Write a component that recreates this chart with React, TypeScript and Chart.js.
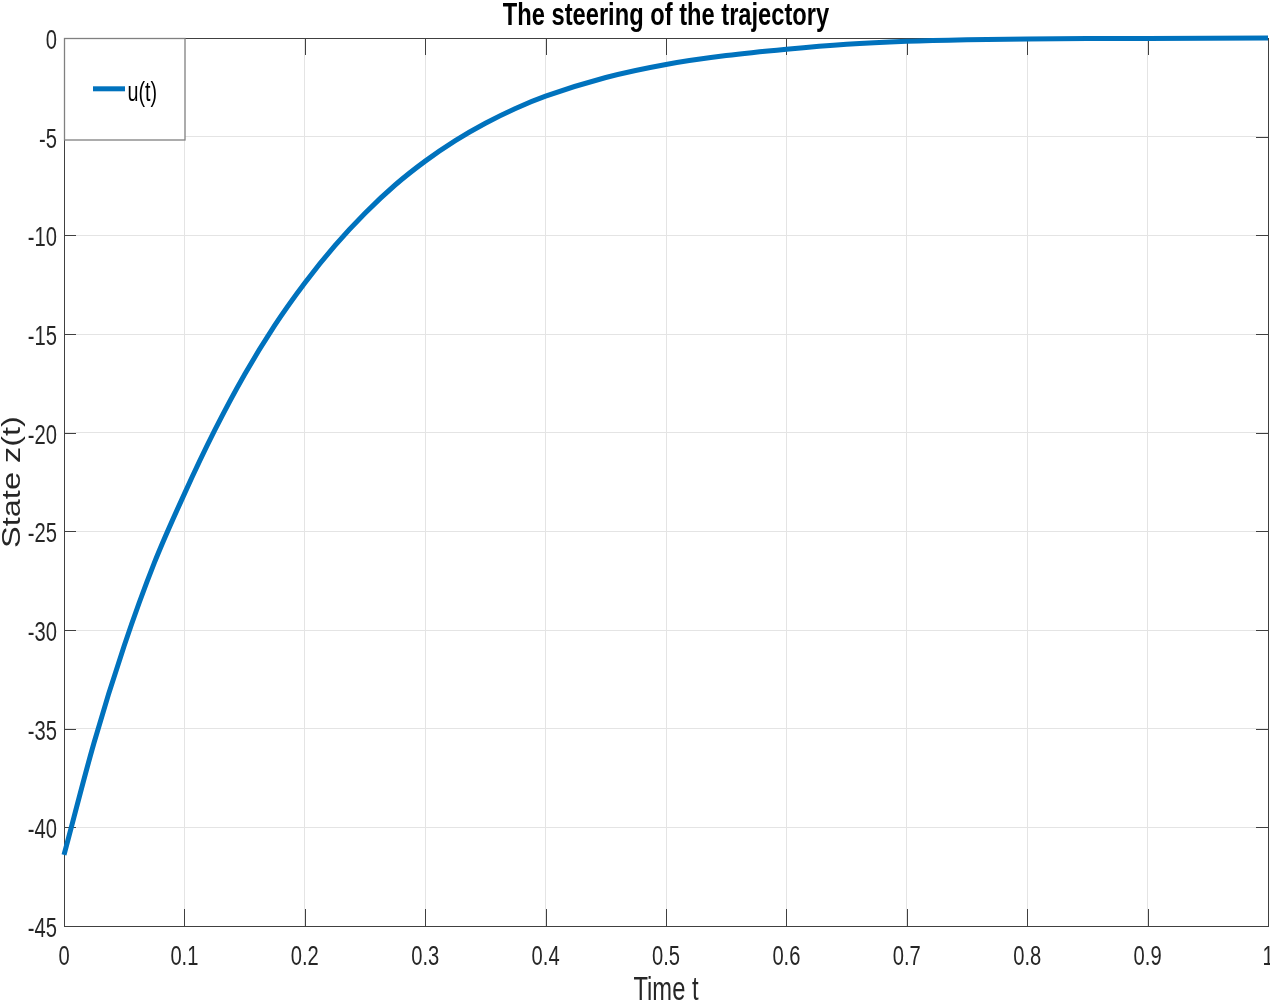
import { useEffect, useRef } from "react";
import { Chart, registerables } from "chart.js";

Chart.register(...registerables);

const chartTitle = "The steering of the trajectory";
const xAxisTitle = "Time t";
const yAxisTitle = "State z(t)";
const seriesLabel = "u(t)";

const timeValues = [
  0, 0.025, 0.05, 0.075, 0.1, 0.125, 0.15, 0.175, 0.2, 0.225, 0.25, 0.275, 0.3,
  0.325, 0.35, 0.375, 0.4, 0.45, 0.5, 0.55, 0.6, 0.65, 0.7, 0.75, 0.8, 0.85,
  0.9, 0.95, 1.0,
];
const stateValues = [
  -41.4, -35.7, -30.8, -26.6, -23.1, -19.9, -17.05, -14.56, -12.41, -10.52,
  -8.88, -7.45, -6.24, -5.2, -4.32, -3.57, -2.95, -2.0, -1.34, -0.89, -0.57,
  -0.32, -0.17, -0.09, -0.05, -0.03, -0.02, -0.01, 0,
];

const xTickValues = [0, 0.1, 0.2, 0.3, 0.4, 0.5, 0.6, 0.7, 0.8, 0.9, 1];
const xTickLabels = ["0", "0.1", "0.2", "0.3", "0.4", "0.5", "0.6", "0.7", "0.8", "0.9", "1"];
const yTickValues = [0, -5, -10, -15, -20, -25, -30, -35, -40, -45];
const yTickLabels = ["0", "-5", "-10", "-15", "-20", "-25", "-30", "-35", "-40", "-45"];

const LINE_COLOR = "#0072BD";
const AXIS_COLOR = "#404040";
const GRID_COLOR = "#e4e4e4";
const TEXT_COLOR = "#262626";
const SANS = "'Liberation Sans', Arial, Helvetica, sans-serif";

function drawText(
  ctx: CanvasRenderingContext2D,
  text: string,
  x: number,
  y: number,
  opts: { font: string; sx: number; align: CanvasTextAlign; baseline: CanvasTextBaseline; rotate?: number; color: string }
) {
  ctx.save();
  ctx.translate(x, y);
  if (opts.rotate) ctx.rotate(opts.rotate);
  ctx.scale(opts.sx, 1);
  ctx.font = opts.font;
  ctx.fillStyle = opts.color;
  ctx.textAlign = opts.align;
  ctx.textBaseline = opts.baseline;
  ctx.fillText(text, 0, 0);
  ctx.restore();
}

const boxPlugin = {
  id: "matlabBox",
  beforeDatasetsDraw(chart: any) {
    const { ctx, chartArea, scales } = chart;
    const { left, right, top, bottom } = chartArea;
    ctx.save();
    ctx.strokeStyle = AXIS_COLOR;
    ctx.lineWidth = 1;
    ctx.beginPath();
    for (const v of xTickValues) {
      const x = Math.round(scales.x.getPixelForValue(v)) + 0.5;
      ctx.moveTo(x, bottom);
      ctx.lineTo(x, bottom - 17);
      ctx.moveTo(x, top);
      ctx.lineTo(x, top + 17);
    }
    for (const v of yTickValues) {
      const y = Math.round(scales.y.getPixelForValue(v)) + 0.5;
      ctx.moveTo(left, y);
      ctx.lineTo(left + 12, y);
      ctx.moveTo(right, y);
      ctx.lineTo(right - 12, y);
    }
    ctx.stroke();
    ctx.strokeRect(left + 0.5, top + 0.5, right - left, bottom - top);
    ctx.restore();
  },
  afterDatasetsDraw(chart: any) {
    const { ctx, chartArea, scales } = chart;
    const { left, right, top, bottom } = chartArea;
    const cx = (left + right) / 2;
    const cy = (top + bottom) / 2;

    // tick labels from the library's scales
    xTickValues.forEach((v, i) => {
      drawText(ctx, xTickLabels[i], scales.x.getPixelForValue(v), bottom + 39, {
        font: `28px ${SANS}`,
        sx: 0.72,
        align: "center",
        baseline: "alphabetic",
        color: TEXT_COLOR,
      });
    });
    yTickValues.forEach((v, i) => {
      drawText(ctx, yTickLabels[i], left - 7, scales.y.getPixelForValue(v) + 11, {
        font: `28px ${SANS}`,
        sx: 0.72,
        align: "right",
        baseline: "alphabetic",
        color: TEXT_COLOR,
      });
    });

    // title and axis titles
    drawText(ctx, chartTitle, cx, top - 13.5, {
      font: `bold 32px ${SANS}`,
      sx: 0.74,
      align: "center",
      baseline: "alphabetic",
      color: "#000000",
    });
    drawText(ctx, xAxisTitle, cx, bottom + 74, {
      font: `33px ${SANS}`,
      sx: 0.72,
      align: "center",
      baseline: "alphabetic",
      color: TEXT_COLOR,
    });
    drawText(ctx, yAxisTitle, 20, cy, {
      font: `25px ${SANS}`,
      sx: 1.3,
      align: "center",
      baseline: "alphabetic",
      rotate: -Math.PI / 2,
      color: TEXT_COLOR,
    });

    // legend
    ctx.save();
    const bx = left + 0.5;
    const by = top + 0.5;
    ctx.fillStyle = "#ffffff";
    ctx.fillRect(bx, by, 120.5, 101.5);
    ctx.strokeStyle = "#808080";
    ctx.lineWidth = 1.3;
    ctx.strokeRect(bx, by, 120.5, 101.5);
    const ly = top + 50.8;
    ctx.strokeStyle = LINE_COLOR;
    ctx.lineWidth = 5;
    ctx.beginPath();
    ctx.moveTo(left + 29, ly);
    ctx.lineTo(left + 61, ly);
    ctx.stroke();
    ctx.restore();
    drawText(ctx, seriesLabel, left + 63.5, top + 62.5, {
      font: `27px ${SANS}`,
      sx: 0.73,
      align: "left",
      baseline: "alphabetic",
      color: "#000000",
    });
  },
};

export default function App() {
  const canvasRef = useRef<HTMLCanvasElement | null>(null);

  useEffect(() => {
    document.body.style.margin = "0";
    const canvas = canvasRef.current;
    if (!canvas) return;
    const points = timeValues.map((t, i) => ({ x: t, y: stateValues[i] }));
    const chart = new Chart(canvas, {
      type: "line",
      data: {
        datasets: [
          {
            label: seriesLabel,
            data: points,
            borderColor: LINE_COLOR,
            backgroundColor: LINE_COLOR,
            borderWidth: 5,
            pointRadius: 0,
            cubicInterpolationMode: "monotone",
            clip: false as any,
          },
        ],
      },
      options: {
        responsive: false,
        animation: false,
        devicePixelRatio: 1,
        layout: { padding: { top: 38, right: 2, left: 0, bottom: 0 } },
        plugins: {
          legend: { display: false },
          tooltip: { enabled: false },
          title: { display: false },
        },
        scales: {
          x: {
            type: "linear",
            min: 0,
            max: 1,
            afterBuildTicks: (scale: any) => {
              scale.ticks = xTickValues.map((v) => ({ value: v }));
            },
            afterFit: (scale: any) => {
              scale.height = 82;
              scale.paddingLeft = 0;
              scale.paddingRight = 0;
            },
            ticks: { display: false, autoSkip: false },
            grid: { color: GRID_COLOR, drawTicks: false, lineWidth: 1 },
            border: { display: false },
          },
          y: {
            type: "linear",
            min: -45,
            max: 0,
            afterBuildTicks: (scale: any) => {
              scale.ticks = yTickValues.map((v) => ({ value: v }));
            },
            afterFit: (scale: any) => {
              scale.width = 64;
              scale.paddingTop = 0;
              scale.paddingBottom = 0;
            },
            ticks: { display: false, autoSkip: false },
            grid: { color: GRID_COLOR, drawTicks: false, lineWidth: 1 },
            border: { display: false },
          },
        },
      },
      plugins: [boxPlugin],
    });
    return () => {
      chart.destroy();
    };
  }, []);

  return (
    <div style={{ width: 1270, height: 1008, background: "#ffffff" }}>
      <canvas
        ref={canvasRef}
        width={1270}
        height={1008}
        style={{ display: "block", width: 1270, height: 1008 }}
      />
    </div>
  );
}
